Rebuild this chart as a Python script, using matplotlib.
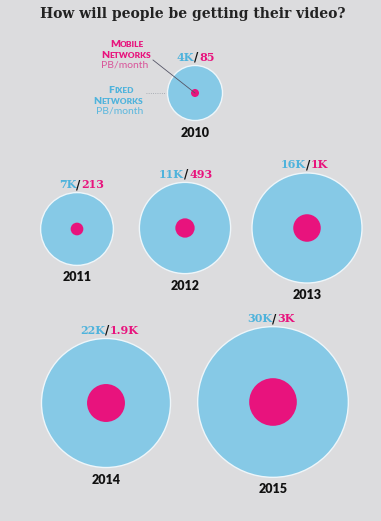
import matplotlib.pyplot as plt
from matplotlib.patches import Circle

# data (petabytes / month)
years = ["2010", "2011", "2012", "2013", "2014", "2015"]
fixed = [4000, 7000, 11000, 16000, 22000, 30000]
mobile = [85, 213, 493, 1000, 1900, 3000]
fixed_labels = ["4K", "7K", "11K", "16K", "22K", "30K"]
mobile_labels = ["85", "213", "493", "1K", "1.9K", "3K"]

# layout in pixel space (x, y of circle centre)
centers = [(195, 93), (77, 229), (185, 228), (307, 228), (106, 403), (273, 402)]
scale = 0.435  # px per sqrt(PB)

BG = "#dcdcde"
BLUE = "#86c9e6"
PINK = "#e8137d"
BLUE_TXT = "#4fb3dc"

fig = plt.figure(figsize=(3.81, 5.21), dpi=100, facecolor=BG)
ax = fig.add_axes([0, 0, 1, 1])
ax.set_xlim(0, 381)
ax.set_ylim(521, 0)
ax.axis("off")
ax.set_facecolor(BG)
renderer = fig.canvas.get_renderer()


def smallcaps(xc, y, word, color, big=7.5, small=6):
    # fake small caps, centred on xc (axes units == pixels)
    first = ax.text(0, y, word[0], ha="left", va="baseline", fontsize=big, family="Lato",
                    fontweight="heavy", color=color)
    rest = ax.text(0, y, word[1:], ha="left", va="baseline", fontsize=small, family="Lato",
                   fontweight="heavy", color=color)
    w1 = first.get_window_extent(renderer).width
    w2 = rest.get_window_extent(renderer).width
    x0 = xc - (w1 + w2) / 2
    first.set_x(x0)
    rest.set_x(x0 + w1 + 0.3)


ax.text(193, 14, "How will people be getting their video?", ha="center", va="center",
        fontsize=10, fontweight="bold", family="DejaVu Serif", color="#222222")

for yr, f, m, fl, ml, (cx, cy) in zip(years, fixed, mobile, fixed_labels, mobile_labels, centers):
    rf = scale * f ** 0.5
    rm = scale * m ** 0.5
    ax.add_patch(Circle((cx, cy), rf, facecolor=BLUE, edgecolor="#eef6fa", lw=1.0, zorder=2))
    ax.add_patch(Circle((cx, cy), rm, facecolor=PINK, edgecolor="none", zorder=3))
    # value label "fixed/mobile"
    ty = cy - rf - 8
    ax.text(cx - 1, ty, fl, ha="right", va="center", fontsize=8, family="DejaVu Serif",
            color=BLUE_TXT, fontweight="bold")
    ax.text(cx - 1, ty, "/", ha="left", va="center", fontsize=8.5, family="DejaVu Sans",
            color="#111111", fontweight="bold")
    ax.text(cx + 4, ty, ml, ha="left", va="center", fontsize=8, family="DejaVu Serif",
            color=PINK, fontweight="bold")
    ax.text(cx, cy + rf + 12, yr, ha="center", va="center", fontsize=9,
            family="Lato", fontweight="heavy", color="#111111")

# legend annotations for 2010
cx, cy = centers[0]
smallcaps(127, 47, "MOBILE", PINK)
smallcaps(126, 58, "NETWORKS", PINK)
ax.text(125, 67, "PB/month", ha="center", va="baseline", fontsize=7.5, family="Lato",
        color="#d9559a")
ax.plot([153, cx], [60, cy], color="#555566", lw=0.6, zorder=4)

smallcaps(121, 93, "FIXED", BLUE_TXT)
smallcaps(118, 104, "NETWORKS", BLUE_TXT)
ax.text(120, 113, "PB/month", ha="center", va="baseline", fontsize=7.5, family="Lato",
        color="#5bb8de")
ax.plot([146, 166], [93, 93], color="#9aa0a8", lw=0.6, ls=":", zorder=1)

fig.savefig("out.png", dpi=100, facecolor=BG)
